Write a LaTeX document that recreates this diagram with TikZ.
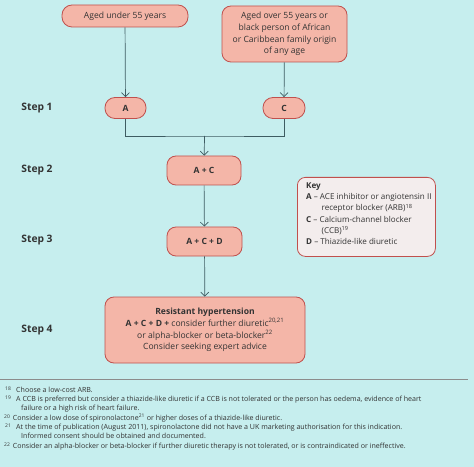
\documentclass[tikz,border=0pt]{standalone}
\usepackage{fontspec}
\setmainfont{Open Sans}
\usetikzlibrary{arrows.meta}
\definecolor{fondo}{HTML}{C6EEEE}
\definecolor{caja}{HTML}{F4B6A8}
\definecolor{borde}{HTML}{C0504D}
\definecolor{clave}{HTML}{F3EDED}
\definecolor{linea}{HTML}{3E5C62}
\definecolor{texto}{HTML}{333333}
\begin{document}
\begin{tikzpicture}[x=1bp,y=-1bp,
    caja/.style={draw=borde, fill=caja, rounded corners=9bp, line width=0.8bp,
      align=center, inner sep=0pt, text=texto,
      font=\fontsize{8.6}{11.8}\selectfont},
    paso/.style={text=texto, font=\fontsize{10.3}{12}\selectfont\bfseries},
    flecha/.style={draw=linea, line width=0.7bp,
      -{Straight Barb[length=4bp,width=8bp]}},
    nota/.style={anchor=base west, inner sep=0pt, text=texto,
      font=\fontsize{7.1}{9.3}\selectfont},
    num/.style={anchor=base, inner sep=0pt, text=texto,
      font=\fontsize{5}{6}\selectfont}]
  % Fondo
  \fill[fondo] (0,0) rectangle (474,467);
  \useasboundingbox (0,0) rectangle (474,467);

  % Cajas de arriba
  \node[caja, minimum width=126bp, minimum height=22bp, rounded corners=10bp]
    (joven) at (125,16) {Aged under 55 years};
  \node[caja, minimum width=125bp, minimum height=56bp]
    (mayor) at (284.5,34) {Aged over 55 years or\\black person of African\\or Caribbean family origin\\of any age};

  % Pasos
  \node[caja, minimum width=41bp, minimum height=21bp, rounded corners=10bp]
    (A) at (125.5,108) {\bfseries A};
  \node[caja, minimum width=42bp, minimum height=21bp, rounded corners=10bp]
    (C) at (284,108) {\bfseries C};
  \node[caja, minimum width=74bp, minimum height=29bp]
    (AC) at (204,170.5) {\bfseries A + C};
  \node[caja, minimum width=75bp, minimum height=29bp]
    (ACD) at (204.5,241.5) {\bfseries A + C + D};
  \node[caja, minimum width=200bp, minimum height=66bp]
    (res) at (205,330) {{\bfseries Resistant hypertension}\\
      {\bfseries A + C + D +} consider further diuretic\textsuperscript{20,21}\\
      or alpha-blocker or beta-blocker\textsuperscript{22}\\
      Consider seeking expert advice};

  % Etiquetas de los pasos
  \node[paso] (p1) at (37,108) {Step 1};
  \node[paso] (p2) at (37,170) {Step 2};
  \node[paso] (p3) at (37,240) {Step 3};
  \node[paso] (p4) at (37,330) {Step 4};

  % Clave
  \node[draw=borde, fill=clave, rounded corners=8bp, line width=0.8bp,
    minimum width=138bp, minimum height=79bp, anchor=north west, inner sep=0pt]
    (clave) at (297,177) {};
  \node[anchor=north west, inner sep=0pt, align=left, text=texto,
    font=\fontsize{8.1}{11.3}\selectfont] (clavetxt) at (306,182.5)
    {\bfseries Key\\
     \textbf{A} -- ACE inhibitor or angiotensin II\\
     \hspace*{15.5bp}receptor blocker (ARB)\textsuperscript{18}\\
     \textbf{C} -- Calcium-channel blocker\\
     \hspace*{15.5bp}(CCB)\textsuperscript{19}\\
     \textbf{D} -- Thiazide-like diuretic};

  % Flechas
  \coordinate (union) at (204.5,136);
  \draw[flecha] (joven) -- (A);
  \draw[flecha] (mayor) -- (C);
  \draw[draw=linea, line width=0.7bp] (A.south) |- (union) -| (C.south);
  \draw[flecha] (union) -- (AC);
  \draw[flecha] (AC) -- (ACD);
  \draw[flecha] (ACD) -- (res);

  % Notas al pie
  \draw[draw=black!45, line width=0.6bp] (0,379) -- (468,379);
  \node[num] (n18) at (8,390.5) {18};
  \node[nota] (f18) at (16,392.5) {Choose a low-cost ARB.};
  \node[num] (n19) at (8,399.5) {19};
  \node[nota] (f19) at (16,401.5) {A CCB is preferred but consider a thiazide-like diuretic if a CCB is not tolerated or the person has oedema, evidence of heart};
  \node[nota] (f19b) at (21,410.8) {failure or a high risk of heart failure.};
  \node[num] (n20) at (7,418.5) {20};
  \node[nota] (f20) at (12.7,420.3) {Consider a low dose of spironolactone\textsuperscript{21} or higher doses of a thiazide-like diuretic.};
  \node[num] (n21) at (8,427.5) {21};
  \node[nota] (f21) at (16,429.5) {At the time of publication (August 2011), spironolactone did not have a UK marketing authorisation for this indication.};
  \node[nota] (f21b) at (21,438.8) {Informed consent should be obtained and documented.};
  \node[num] (n22) at (7,446.5) {22};
  \node[nota] (f22) at (12.7,448.3) {Consider an alpha-blocker or beta-blocker if further diuretic therapy is not tolerated, or is contraindicated or ineffective.};
\end{tikzpicture}
\end{document}
